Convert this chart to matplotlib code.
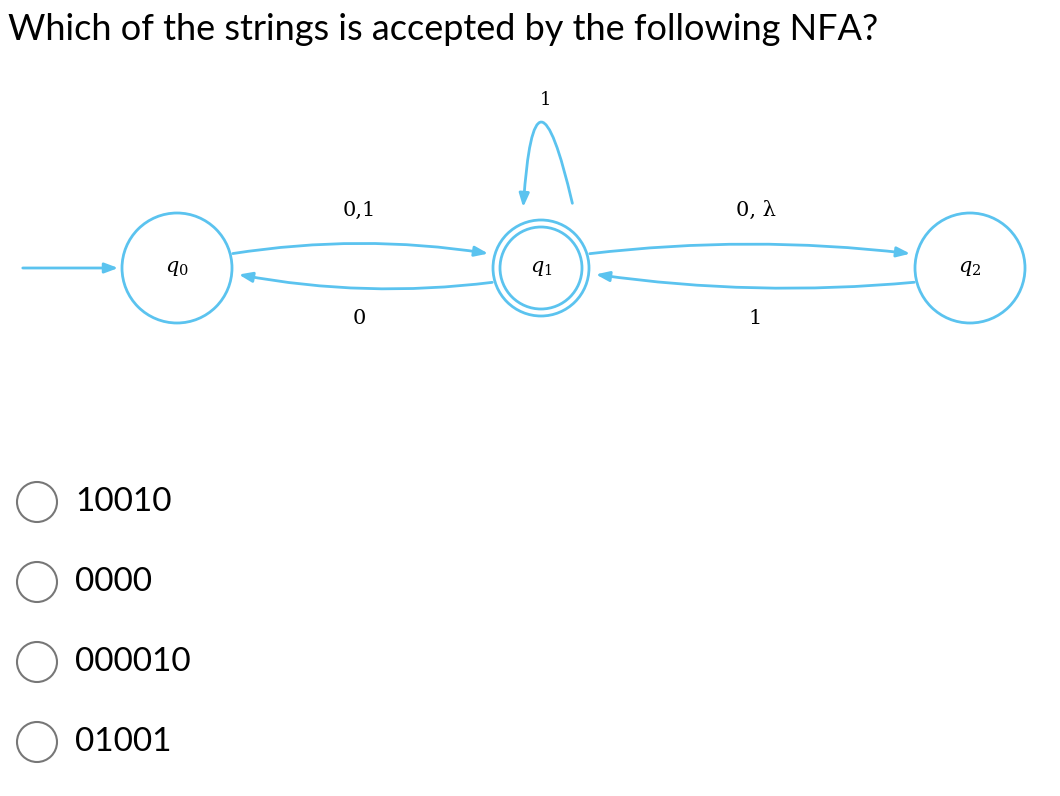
import matplotlib.pyplot as plt
from matplotlib.patches import Circle, FancyArrowPatch

question = "Which of the strings is accepted by the following NFA?"
options = ["10010", "0000", "000010", "01001"]
state_names = [r"$q_0$", r"$q_1$", r"$q_2$"]
state_x = [177, 541, 970]
accepting = [False, True, False]
# (from, to, label, curve)
edges = [(0, 1, "0,1", -0.08), (1, 0, "0", -0.08),
         (1, 2, "0, λ", -0.06), (2, 1, "1", -0.06)]
loop_label = "1"

blue = "#5bc3ef"
state_y = 268
r = 55

fig = plt.figure(figsize=(10.6, 7.96), dpi=100)
ax = fig.add_axes([0, 0, 1, 1])
ax.set_xlim(0, 1060)
ax.set_ylim(796, 0)
ax.axis("off")

ax.text(8, 30, question, fontsize=26, family="Lato", va="center", ha="left")

for name, x, acc in zip(state_names, state_x, accepting):
    rr = 48 if acc else r
    ax.add_patch(Circle((x, state_y), rr, fill=False, ec=blue, lw=2))
    if acc:
        ax.add_patch(Circle((x, state_y), rr - 7, fill=False, ec=blue, lw=2))
    ax.text(x, state_y, name, fontsize=15, ha="center", va="center",
            math_fontfamily="dejavuserif")

def arrow(p1, p2, rad):
    ax.add_patch(FancyArrowPatch(p1, p2, connectionstyle=f"arc3,rad={rad}",
                                 arrowstyle="-|>,head_length=8,head_width=3",
                                 color=blue, lw=2, mutation_scale=1))

arrow((20, state_y), (121, state_y), 0)

for a, b, lab, rad in edges:
    xa, xb = state_x[a], state_x[b]
    ra = 48 if accepting[a] else r
    rb = 48 if accepting[b] else r
    if xa < xb:
        p1 = (xa + ra - 2, state_y - 14)
        p2 = (xb - rb - 2, state_y - 14)
        ly = 210
    else:
        p1 = (xa - ra + 2, state_y + 14)
        p2 = (xb + rb + 4, state_y + 6)
        ly = 318
    arrow(p1, p2, rad)
    ax.text((xa + xb) / 2, ly, lab, fontsize=15, family="DejaVu Serif",
            ha="center", va="center")

qx = state_x[1]
arrow((qx + 32, state_y - 62), (qx - 18, state_y - 58), 3.4)
ax.text(qx + 5, 100, loop_label, fontsize=13, family="DejaVu Serif",
        ha="center", va="center")

for i, opt in enumerate(options):
    y = 502 + 80 * i
    ax.add_patch(Circle((37, y), 20, fill=False, ec="#777777", lw=1.5))
    ax.text(75, y, opt, fontsize=24, family="Lato", va="center", ha="left")

fig.savefig("out.png", dpi=100)
